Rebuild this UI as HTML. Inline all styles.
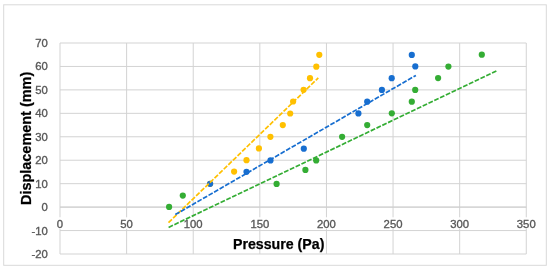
<!DOCTYPE html>
<html><head><meta charset="utf-8"><title>Displacement vs Pressure</title>
<style>
html,body{margin:0;padding:0;background:#fff;}
body{width:550px;height:271px;overflow:hidden;}
svg{display:block;}
.t{font-family:"Liberation Sans",Arial,sans-serif;font-size:11.3px;fill:#595959;stroke:#595959;stroke-width:0.35px;}
.ti{font-family:"Liberation Sans",Arial,sans-serif;font-size:15px;font-weight:bold;fill:#000;stroke:#000;stroke-width:0.25px;}
</style></head><body>
<svg width="550" height="271" viewBox="0 0 550 271">
<rect x="0" y="0" width="550" height="271" fill="#fff"/>
<rect x="3.7" y="4.8" width="542.6" height="260.5" fill="none" stroke="#d9d9d9" stroke-width="1"/>
<g stroke="#d3d3d3" stroke-width="1" fill="none">
<line x1="60.00" y1="43.00" x2="60.00" y2="254.00"/>
<line x1="126.61" y1="43.00" x2="126.61" y2="254.00"/>
<line x1="193.22" y1="43.00" x2="193.22" y2="254.00"/>
<line x1="259.83" y1="43.00" x2="259.83" y2="254.00"/>
<line x1="326.44" y1="43.00" x2="326.44" y2="254.00"/>
<line x1="393.05" y1="43.00" x2="393.05" y2="254.00"/>
<line x1="459.66" y1="43.00" x2="459.66" y2="254.00"/>
<line x1="526.27" y1="43.00" x2="526.27" y2="254.00"/>
<line x1="60.00" y1="43.00" x2="526.27" y2="43.00"/>
<line x1="60.00" y1="66.44" x2="526.27" y2="66.44"/>
<line x1="60.00" y1="89.89" x2="526.27" y2="89.89"/>
<line x1="60.00" y1="113.33" x2="526.27" y2="113.33"/>
<line x1="60.00" y1="136.78" x2="526.27" y2="136.78"/>
<line x1="60.00" y1="160.22" x2="526.27" y2="160.22"/>
<line x1="60.00" y1="183.66" x2="526.27" y2="183.66"/>
<line x1="60.00" y1="207.11" x2="526.27" y2="207.11"/>
<line x1="60.00" y1="230.55" x2="526.27" y2="230.55"/>
<line x1="60.00" y1="254.00" x2="526.27" y2="254.00"/>
</g>
<line x1="60.00" y1="207.11" x2="526.27" y2="207.11" stroke="#cfcfcf" stroke-width="1"/>
<g class="t" text-anchor="end">
<text x="47.8" y="47.00">70</text>
<text x="47.8" y="70.44">60</text>
<text x="47.8" y="93.89">50</text>
<text x="47.8" y="117.33">40</text>
<text x="47.8" y="140.78">30</text>
<text x="47.8" y="164.22">20</text>
<text x="47.8" y="187.66">10</text>
<text x="47.8" y="211.11">0</text>
<text x="47.8" y="234.55">-10</text>
<text x="47.8" y="258.00">-20</text>
</g>
<g fill="#fff">
<rect x="55.85" y="217.3" width="8.30" height="11.6"/>
<rect x="119.31" y="217.3" width="14.60" height="11.6"/>
<rect x="182.77" y="217.3" width="20.90" height="11.6"/>
<rect x="249.38" y="217.3" width="20.90" height="11.6"/>
<rect x="315.99" y="217.3" width="20.90" height="11.6"/>
<rect x="382.60" y="217.3" width="20.90" height="11.6"/>
<rect x="449.21" y="217.3" width="20.90" height="11.6"/>
<rect x="515.82" y="217.3" width="20.90" height="11.6"/>
</g>
<g class="t" text-anchor="middle">
<text x="60.00" y="227.5">0</text>
<text x="126.61" y="227.5">50</text>
<text x="193.22" y="227.5">100</text>
<text x="259.83" y="227.5">150</text>
<text x="326.44" y="227.5">200</text>
<text x="393.05" y="227.5">250</text>
<text x="459.66" y="227.5">300</text>
<text x="526.27" y="227.5">350</text>
</g>
<g fill="#ffc000">
<circle cx="319.3" cy="54.8" r="3.10"/>
<circle cx="316.3" cy="66.7" r="3.10"/>
<circle cx="310.0" cy="78.2" r="3.10"/>
<circle cx="303.6" cy="89.8" r="3.10"/>
<circle cx="293.1" cy="101.5" r="3.10"/>
<circle cx="290.2" cy="113.5" r="3.10"/>
<circle cx="282.8" cy="125.1" r="3.10"/>
<circle cx="270.4" cy="136.8" r="3.10"/>
<circle cx="258.9" cy="148.4" r="3.10"/>
<circle cx="246.5" cy="160.2" r="3.10"/>
<circle cx="234.1" cy="171.6" r="3.10"/>
<circle cx="210.1" cy="183.8" r="3.10"/>
</g>
<g fill="#176ed0">
<circle cx="411.8" cy="54.9" r="3.10"/>
<circle cx="415.3" cy="66.4" r="3.10"/>
<circle cx="391.7" cy="78.2" r="3.10"/>
<circle cx="381.9" cy="89.9" r="3.10"/>
<circle cx="367.2" cy="101.7" r="3.10"/>
<circle cx="358.4" cy="113.4" r="3.10"/>
<circle cx="303.8" cy="148.7" r="3.10"/>
<circle cx="270.5" cy="160.4" r="3.10"/>
<circle cx="246.5" cy="171.8" r="3.10"/>
<circle cx="210.1" cy="183.8" r="3.10"/>
</g>
<g fill="#34ad34">
<circle cx="481.8" cy="54.7" r="3.10"/>
<circle cx="448.4" cy="66.6" r="3.10"/>
<circle cx="438.1" cy="78.1" r="3.10"/>
<circle cx="415.2" cy="89.9" r="3.10"/>
<circle cx="411.8" cy="101.7" r="3.10"/>
<circle cx="391.8" cy="113.3" r="3.10"/>
<circle cx="367.2" cy="125.1" r="3.10"/>
<circle cx="342.1" cy="136.8" r="3.10"/>
<circle cx="316.2" cy="160.4" r="3.10"/>
<circle cx="305.4" cy="169.9" r="3.10"/>
<circle cx="276.6" cy="183.9" r="3.10"/>
<circle cx="182.8" cy="195.6" r="3.10"/>
<circle cx="169.1" cy="206.9" r="3.10"/>
</g>
<line x1="168.5" y1="222.6" x2="318.3" y2="77.9" stroke="#ffc000" stroke-width="1.7" stroke-dasharray="4.8 1.6"/>
<line x1="175.3" y1="214.6" x2="415.9" y2="75.4" stroke="#176ed0" stroke-width="1.7" stroke-dasharray="4.8 1.6"/>
<line x1="168.6" y1="227.4" x2="496.8" y2="70.7" stroke="#34ad34" stroke-width="1.7" stroke-dasharray="4.8 1.6"/>
<text class="ti" x="278.7" y="248.6" text-anchor="middle" textLength="91.4" lengthAdjust="spacingAndGlyphs">Pressure (Pa)</text>
<text class="ti" transform="translate(31,138.4) rotate(-90)" x="0" y="0" text-anchor="middle" textLength="133.2" lengthAdjust="spacingAndGlyphs">Displacement (mm)</text>
</svg>
</body></html>
